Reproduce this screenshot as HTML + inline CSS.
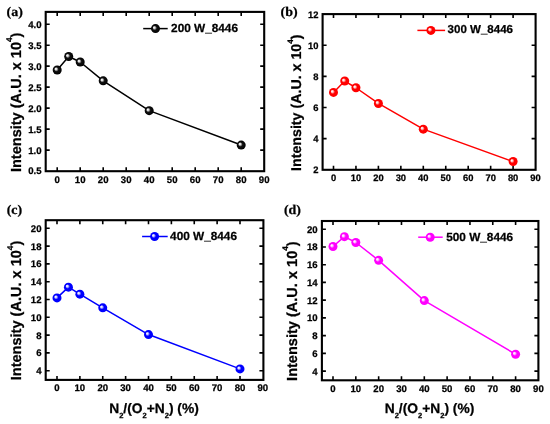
<!DOCTYPE html>
<html><head><meta charset="utf-8"><title>Intensity vs N2/(O2+N2)</title>
<style>
html,body{margin:0;padding:0;background:#fff;}
body{width:550px;height:424px;overflow:hidden;}
svg{display:block;}
text{text-rendering:geometricPrecision;stroke:#000;stroke-width:0.25px;}
.tk{font-family:'Liberation Sans', Arial, sans-serif;font-weight:bold;font-size:9.6px;fill:#000;}
.lg{font-family:'Liberation Sans', Arial, sans-serif;font-weight:bold;font-size:11.8px;fill:#000;}
.pl{font-family:'Liberation Serif', 'Times New Roman', serif;font-weight:bold;font-size:13.3px;fill:#000;}
.yt{font-family:'Liberation Sans', Arial, sans-serif;font-weight:bold;font-size:14.55px;fill:#000;}
.xt{font-family:'Liberation Sans', Arial, sans-serif;font-weight:bold;font-size:13.8px;fill:#000;}
.sup{font-size:8.2px;}
.sub{font-size:7.5px;}
</style></head>
<body>
<svg width="550" height="424" viewBox="0 0 550 424"><defs><radialGradient id="gk" cx="0.5" cy="0.5" r="0.5" fx="0.32" fy="0.36"><stop offset="0" stop-color="#fff"/><stop offset="0.2" stop-color="#dddddd"/><stop offset="0.5" stop-color="#111"/><stop offset="1" stop-color="#000"/></radialGradient><radialGradient id="gr" cx="0.5" cy="0.5" r="0.5" fx="0.32" fy="0.36"><stop offset="0" stop-color="#fff"/><stop offset="0.2" stop-color="#ffd8d8"/><stop offset="0.5" stop-color="#f00"/><stop offset="1" stop-color="#f00"/></radialGradient><radialGradient id="gb" cx="0.5" cy="0.5" r="0.5" fx="0.32" fy="0.36"><stop offset="0" stop-color="#fff"/><stop offset="0.2" stop-color="#d8d8ff"/><stop offset="0.5" stop-color="#00f"/><stop offset="1" stop-color="#00f"/></radialGradient><radialGradient id="gm" cx="0.5" cy="0.5" r="0.5" fx="0.32" fy="0.36"><stop offset="0" stop-color="#fff"/><stop offset="0.2" stop-color="#ffd8ff"/><stop offset="0.5" stop-color="#f0f"/><stop offset="1" stop-color="#f0f"/></radialGradient></defs><rect width="550" height="424" fill="#fff"/><g><path d="M57.2 171.2v-4.0M57.2 11.9v4.0M80.2 171.2v-4.0M80.2 11.9v4.0M103.2 171.2v-4.0M103.2 11.9v4.0M126.2 171.2v-4.0M126.2 11.9v4.0M149.2 171.2v-4.0M149.2 11.9v4.0M172.2 171.2v-4.0M172.2 11.9v4.0M195.2 171.2v-4.0M195.2 11.9v4.0M218.2 171.2v-4.0M218.2 11.9v4.0M241.2 171.2v-4.0M241.2 11.9v4.0M45.7 150.11h4.0M264.2 150.11h-4.0M45.7 129.12h4.0M264.2 129.12h-4.0M45.7 108.14h4.0M264.2 108.14h-4.0M45.7 87.16h4.0M264.2 87.16h-4.0M45.7 66.17h4.0M264.2 66.17h-4.0M45.7 45.19h4.0M264.2 45.19h-4.0M45.7 24.2h4.0M264.2 24.2h-4.0" stroke="#000" stroke-width="1.6" fill="none"/><rect x="45.7" y="11.9" width="218.5" height="159.3" fill="none" stroke="#000" stroke-width="2.1"/><text x="57.2" y="182.7" text-anchor="middle" class="tk">0</text><text x="80.2" y="182.7" text-anchor="middle" class="tk">10</text><text x="103.2" y="182.7" text-anchor="middle" class="tk">20</text><text x="126.2" y="182.7" text-anchor="middle" class="tk">30</text><text x="149.2" y="182.7" text-anchor="middle" class="tk">40</text><text x="172.2" y="182.7" text-anchor="middle" class="tk">50</text><text x="195.2" y="182.7" text-anchor="middle" class="tk">60</text><text x="218.2" y="182.7" text-anchor="middle" class="tk">70</text><text x="241.2" y="182.7" text-anchor="middle" class="tk">80</text><text x="264.2" y="182.7" text-anchor="middle" class="tk">90</text><text x="41.5" y="174.49" text-anchor="end" class="tk">0.5</text><text x="41.5" y="153.51" text-anchor="end" class="tk">1.0</text><text x="41.5" y="132.53" text-anchor="end" class="tk">1.5</text><text x="41.5" y="111.54" text-anchor="end" class="tk">2.0</text><text x="41.5" y="90.56" text-anchor="end" class="tk">2.5</text><text x="41.5" y="69.57" text-anchor="end" class="tk">3.0</text><text x="41.5" y="48.59" text-anchor="end" class="tk">3.5</text><text x="41.5" y="27.6" text-anchor="end" class="tk">4.0</text><polyline points="57.2,69.95 68.7,56.52 80.2,61.97 103.2,80.86 149.2,110.66 241.2,145.07" fill="none" stroke="#000" stroke-width="1.5" stroke-linejoin="round"/><circle cx="57.2" cy="69.95" r="4.5" fill="url(#gk)"/><circle cx="68.7" cy="56.52" r="4.5" fill="url(#gk)"/><circle cx="80.2" cy="61.97" r="4.5" fill="url(#gk)"/><circle cx="103.2" cy="80.86" r="4.5" fill="url(#gk)"/><circle cx="149.2" cy="110.66" r="4.5" fill="url(#gk)"/><circle cx="241.2" cy="145.07" r="4.5" fill="url(#gk)"/><path d="M143.2 28.6H167.7" stroke="#000" stroke-width="1.5"/><circle cx="155.5" cy="28.6" r="4.5" fill="url(#gk)"/><text x="171.1" y="32.2" class="lg">200 W_8446</text><text transform="translate(6.5,15.9) scale(1.05,1)" class="pl">(a)</text><text transform="translate(20.8,172.1) rotate(-90)" class="yt">Intensity (A.U. x 10<tspan class="sup" dy="-8.6">4</tspan><tspan dy="8.6">)</tspan></text></g><g><path d="M333.5 169.8v-4.0M333.5 14.1v4.0M355.95 169.8v-4.0M355.95 14.1v4.0M378.4 169.8v-4.0M378.4 14.1v4.0M400.85 169.8v-4.0M400.85 14.1v4.0M423.3 169.8v-4.0M423.3 14.1v4.0M445.75 169.8v-4.0M445.75 14.1v4.0M468.2 169.8v-4.0M468.2 14.1v4.0M490.65 169.8v-4.0M490.65 14.1v4.0M513.1 169.8v-4.0M513.1 14.1v4.0M322.6 138.66h4.0M535.6 138.66h-4.0M322.6 107.52h4.0M535.6 107.52h-4.0M322.6 76.38h4.0M535.6 76.38h-4.0M322.6 45.24h4.0M535.6 45.24h-4.0" stroke="#000" stroke-width="1.6" fill="none"/><rect x="322.6" y="14.1" width="213" height="155.7" fill="none" stroke="#000" stroke-width="2.1"/><text x="333.5" y="181.3" text-anchor="middle" class="tk" style="font-size:9.39px">0</text><text x="355.95" y="181.3" text-anchor="middle" class="tk" style="font-size:9.39px">10</text><text x="378.4" y="181.3" text-anchor="middle" class="tk" style="font-size:9.39px">20</text><text x="400.85" y="181.3" text-anchor="middle" class="tk" style="font-size:9.39px">30</text><text x="423.3" y="181.3" text-anchor="middle" class="tk" style="font-size:9.39px">40</text><text x="445.75" y="181.3" text-anchor="middle" class="tk" style="font-size:9.39px">50</text><text x="468.2" y="181.3" text-anchor="middle" class="tk" style="font-size:9.39px">60</text><text x="490.65" y="181.3" text-anchor="middle" class="tk" style="font-size:9.39px">70</text><text x="513.1" y="181.3" text-anchor="middle" class="tk" style="font-size:9.39px">80</text><text x="535.55" y="181.3" text-anchor="middle" class="tk" style="font-size:9.39px">90</text><text x="318.4" y="173.2" text-anchor="end" class="tk" style="font-size:9.39px">2</text><text x="318.4" y="142.06" text-anchor="end" class="tk" style="font-size:9.39px">4</text><text x="318.4" y="110.92" text-anchor="end" class="tk" style="font-size:9.39px">6</text><text x="318.4" y="79.78" text-anchor="end" class="tk" style="font-size:9.39px">8</text><text x="318.4" y="48.64" text-anchor="end" class="tk" style="font-size:9.39px">10</text><text x="318.4" y="17.5" text-anchor="end" class="tk" style="font-size:9.39px">12</text><polyline points="333.5,92.42 344.73,81.05 355.95,87.75 378.4,103.47 423.3,129.16 513.1,161.55" fill="none" stroke="#f00" stroke-width="1.5" stroke-linejoin="round"/><circle cx="333.5" cy="92.42" r="4.5" fill="url(#gr)"/><circle cx="344.73" cy="81.05" r="4.5" fill="url(#gr)"/><circle cx="355.95" cy="87.75" r="4.5" fill="url(#gr)"/><circle cx="378.4" cy="103.47" r="4.5" fill="url(#gr)"/><circle cx="423.3" cy="129.16" r="4.5" fill="url(#gr)"/><circle cx="513.1" cy="161.55" r="4.5" fill="url(#gr)"/><path d="M417.4 30.4H445.1" stroke="#f00" stroke-width="1.5"/><circle cx="430.9" cy="30.4" r="4.5" fill="url(#gr)"/><text x="447.6" y="33.4" class="lg" style="font-size:11.54px">300 W_8446</text><text transform="translate(280.6,15.8) scale(1.05,1)" class="pl">(b)</text><text transform="translate(301,171) rotate(-90) scale(0.978)" class="yt">Intensity (A.U. x 10<tspan class="sup" dy="-8.6">4</tspan><tspan dy="8.6">)</tspan></text></g><g><path d="M57 379.9v-4.0M57 220.2v4.0M79.88 379.9v-4.0M79.88 220.2v4.0M102.75 379.9v-4.0M102.75 220.2v4.0M125.62 379.9v-4.0M125.62 220.2v4.0M148.5 379.9v-4.0M148.5 220.2v4.0M171.38 379.9v-4.0M171.38 220.2v4.0M194.25 379.9v-4.0M194.25 220.2v4.0M217.12 379.9v-4.0M217.12 220.2v4.0M240 379.9v-4.0M240 220.2v4.0M45.7 370.7h4.0M263.4 370.7h-4.0M45.7 352.9h4.0M263.4 352.9h-4.0M45.7 335.1h4.0M263.4 335.1h-4.0M45.7 317.3h4.0M263.4 317.3h-4.0M45.7 299.5h4.0M263.4 299.5h-4.0M45.7 281.7h4.0M263.4 281.7h-4.0M45.7 263.9h4.0M263.4 263.9h-4.0M45.7 246.1h4.0M263.4 246.1h-4.0M45.7 228.3h4.0M263.4 228.3h-4.0" stroke="#000" stroke-width="1.6" fill="none"/><rect x="45.7" y="220.2" width="217.7" height="159.7" fill="none" stroke="#000" stroke-width="2.1"/><text x="57" y="391.4" text-anchor="middle" class="tk">0</text><text x="79.88" y="391.4" text-anchor="middle" class="tk">10</text><text x="102.75" y="391.4" text-anchor="middle" class="tk">20</text><text x="125.62" y="391.4" text-anchor="middle" class="tk">30</text><text x="148.5" y="391.4" text-anchor="middle" class="tk">40</text><text x="171.38" y="391.4" text-anchor="middle" class="tk">50</text><text x="194.25" y="391.4" text-anchor="middle" class="tk">60</text><text x="217.12" y="391.4" text-anchor="middle" class="tk">70</text><text x="240" y="391.4" text-anchor="middle" class="tk">80</text><text x="262.88" y="391.4" text-anchor="middle" class="tk">90</text><text x="41.5" y="374.1" text-anchor="end" class="tk">4</text><text x="41.5" y="356.3" text-anchor="end" class="tk">6</text><text x="41.5" y="338.5" text-anchor="end" class="tk">8</text><text x="41.5" y="320.7" text-anchor="end" class="tk">10</text><text x="41.5" y="302.9" text-anchor="end" class="tk">12</text><text x="41.5" y="285.1" text-anchor="end" class="tk">14</text><text x="41.5" y="267.3" text-anchor="end" class="tk">16</text><text x="41.5" y="249.5" text-anchor="end" class="tk">18</text><text x="41.5" y="231.7" text-anchor="end" class="tk">20</text><polyline points="57,297.9 68.44,287.13 79.88,294.16 102.75,307.87 148.5,334.57 240,368.92" fill="none" stroke="#00f" stroke-width="1.5" stroke-linejoin="round"/><circle cx="57" cy="297.9" r="4.5" fill="url(#gb)"/><circle cx="68.44" cy="287.13" r="4.5" fill="url(#gb)"/><circle cx="79.88" cy="294.16" r="4.5" fill="url(#gb)"/><circle cx="102.75" cy="307.87" r="4.5" fill="url(#gb)"/><circle cx="148.5" cy="334.57" r="4.5" fill="url(#gb)"/><circle cx="240" cy="368.92" r="4.5" fill="url(#gb)"/><path d="M142.1 236.5H167.7" stroke="#00f" stroke-width="1.5"/><circle cx="154.6" cy="236.5" r="4.5" fill="url(#gb)"/><text x="170.1" y="240.3" class="lg">400 W_8446</text><text transform="translate(6.7,214) scale(1.05,1)" class="pl">(c)</text><text transform="translate(21.2,380.3) rotate(-90)" class="yt">Intensity (A.U. x 10<tspan class="sup" dy="-8.6">4</tspan><tspan dy="8.6">)</tspan></text><text x="109.2" y="412.8" class="xt">N<tspan class="sub" dy="5">2</tspan><tspan dy="-5">/(O</tspan><tspan class="sub" dy="5">2</tspan><tspan dy="-5">+N</tspan><tspan class="sub" dy="5">2</tspan><tspan dy="-5">) (%)</tspan></text></g><g><path d="M333 380.3v-4.0M333 221v4.0M355.82 380.3v-4.0M355.82 221v4.0M378.65 380.3v-4.0M378.65 221v4.0M401.48 380.3v-4.0M401.48 221v4.0M424.3 380.3v-4.0M424.3 221v4.0M447.12 380.3v-4.0M447.12 221v4.0M469.95 380.3v-4.0M469.95 221v4.0M492.77 380.3v-4.0M492.77 221v4.0M515.6 380.3v-4.0M515.6 221v4.0M321.9 371.12h4.0M538.4 371.12h-4.0M321.9 353.38h4.0M538.4 353.38h-4.0M321.9 335.64h4.0M538.4 335.64h-4.0M321.9 317.9h4.0M538.4 317.9h-4.0M321.9 300.16h4.0M538.4 300.16h-4.0M321.9 282.42h4.0M538.4 282.42h-4.0M321.9 264.68h4.0M538.4 264.68h-4.0M321.9 246.94h4.0M538.4 246.94h-4.0M321.9 229.2h4.0M538.4 229.2h-4.0" stroke="#000" stroke-width="1.6" fill="none"/><rect x="321.9" y="221" width="216.5" height="159.3" fill="none" stroke="#000" stroke-width="2.1"/><text x="333" y="391.8" text-anchor="middle" class="tk">0</text><text x="355.82" y="391.8" text-anchor="middle" class="tk">10</text><text x="378.65" y="391.8" text-anchor="middle" class="tk">20</text><text x="401.48" y="391.8" text-anchor="middle" class="tk">30</text><text x="424.3" y="391.8" text-anchor="middle" class="tk">40</text><text x="447.12" y="391.8" text-anchor="middle" class="tk">50</text><text x="469.95" y="391.8" text-anchor="middle" class="tk">60</text><text x="492.77" y="391.8" text-anchor="middle" class="tk">70</text><text x="515.6" y="391.8" text-anchor="middle" class="tk">80</text><text x="538.42" y="391.8" text-anchor="middle" class="tk">90</text><text x="317.7" y="374.52" text-anchor="end" class="tk">4</text><text x="317.7" y="356.78" text-anchor="end" class="tk">6</text><text x="317.7" y="339.04" text-anchor="end" class="tk">8</text><text x="317.7" y="321.3" text-anchor="end" class="tk">10</text><text x="317.7" y="303.56" text-anchor="end" class="tk">12</text><text x="317.7" y="285.82" text-anchor="end" class="tk">14</text><text x="317.7" y="268.08" text-anchor="end" class="tk">16</text><text x="317.7" y="250.34" text-anchor="end" class="tk">18</text><text x="317.7" y="232.6" text-anchor="end" class="tk">20</text><polyline points="333,246.5 344.41,236.65 355.82,242.5 378.65,260.33 424.3,300.6 515.6,354.27" fill="none" stroke="#f0f" stroke-width="1.5" stroke-linejoin="round"/><circle cx="333" cy="246.5" r="4.5" fill="url(#gm)"/><circle cx="344.41" cy="236.65" r="4.5" fill="url(#gm)"/><circle cx="355.82" cy="242.5" r="4.5" fill="url(#gm)"/><circle cx="378.65" cy="260.33" r="4.5" fill="url(#gm)"/><circle cx="424.3" cy="300.6" r="4.5" fill="url(#gm)"/><circle cx="515.6" cy="354.27" r="4.5" fill="url(#gm)"/><path d="M418.2 237.2H442.7" stroke="#f0f" stroke-width="1.5"/><circle cx="430.2" cy="237.2" r="4.5" fill="url(#gm)"/><text x="446.2" y="240.5" class="lg">500 W_8446</text><text transform="translate(283.9,214.2) scale(1.05,1)" class="pl">(d)</text><text transform="translate(296.9,380.9) rotate(-90)" class="yt">Intensity (A.U. x 10<tspan class="sup" dy="-8.6">4</tspan><tspan dy="8.6">)</tspan></text><text x="384.7" y="413.3" class="xt">N<tspan class="sub" dy="5">2</tspan><tspan dy="-5">/(O</tspan><tspan class="sub" dy="5">2</tspan><tspan dy="-5">+N</tspan><tspan class="sub" dy="5">2</tspan><tspan dy="-5">) (%)</tspan></text></g></svg>
</body></html>
